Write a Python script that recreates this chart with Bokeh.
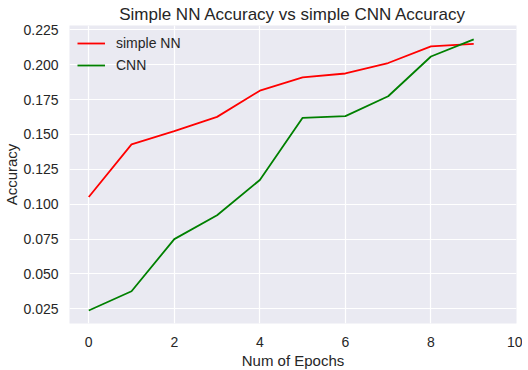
from bokeh.plotting import figure
from bokeh.models import FixedTicker, NumeralTickFormatter, Legend, LegendItem, Range1d
from bokeh.embed import file_html
from bokeh.resources import INLINE

epochs = [0, 1, 2, 3, 4, 5, 6, 7, 8, 9]
nn_acc = [0.1052, 0.1429, 0.1524, 0.1626, 0.1814, 0.1909, 0.1937, 0.2012, 0.2131, 0.2150]
cnn_acc = [0.0238, 0.0376, 0.0750, 0.0921, 0.1174, 0.1619, 0.1631, 0.1774, 0.2059, 0.2181]
x_ticks = [0, 2, 4, 6, 8, 10]
y_ticks = [0.025, 0.05, 0.075, 0.1, 0.125, 0.15, 0.175, 0.2, 0.225]

FONT = "Liberation Sans"
TXT = "#262626"

p = figure(frame_width=447, frame_height=298, output_backend="svg", toolbar_location=None,
           x_range=Range1d(-0.45, 10), y_range=Range1d(0.0145, 0.2281),
           min_border_left=0, min_border_right=6, min_border_top=4, min_border_bottom=2,
           title="Simple NN Accuracy vs simple CNN Accuracy")

p.background_fill_color = "#EAEAF2"
p.border_fill_color = "white"
p.outline_line_color = None

p.title.text_font = FONT
p.title.text_font_size = "17px"
p.title.text_font_style = "normal"
p.title.text_color = TXT
p.title.align = "center"
p.title.standoff = 4
p.title.offset = 0

for ax in (p.xaxis[0], p.yaxis[0]):
    ax.axis_line_color = None
    ax.major_tick_line_color = None
    ax.minor_tick_line_color = None
    ax.major_label_text_font = FONT
    ax.major_label_text_font_size = "14px"
    ax.major_label_text_color = TXT
    ax.axis_label_text_font = FONT
    ax.axis_label_text_font_size = "15px"
    ax.axis_label_text_font_style = "normal"
    ax.axis_label_text_color = TXT

p.xaxis.ticker = FixedTicker(ticks=x_ticks)
p.yaxis.ticker = FixedTicker(ticks=y_ticks)
p.yaxis.formatter = NumeralTickFormatter(format="0.000")
p.xaxis.axis_label = "Num of Epochs"
p.yaxis.axis_label = "Accuracy"
p.xaxis.major_label_standoff = 7
p.yaxis.major_label_standoff = 5
p.xaxis.axis_label_standoff = 2
p.yaxis.axis_label_standoff = 0

p.grid.grid_line_color = "white"
p.grid.grid_line_width = 1.2

r1 = p.line(epochs, nn_acc, line_color="red", line_width=1.8)
r2 = p.line(epochs, cnn_acc, line_color="green", line_width=1.8)

legend = Legend(items=[LegendItem(label="simple NN", renderers=[r1]),
                       LegendItem(label="CNN", renderers=[r2])],
                location="top_left")
legend.background_fill_alpha = 0
legend.border_line_color = None
legend.label_text_font = FONT
legend.label_text_font_size = "14px"
legend.label_text_color = TXT
legend.glyph_width = 28
legend.label_standoff = 11
legend.spacing = 2
legend.margin = 8
legend.padding = 8
p.add_layout(legend)

open("out.html", "w").write(file_html(p, INLINE))
